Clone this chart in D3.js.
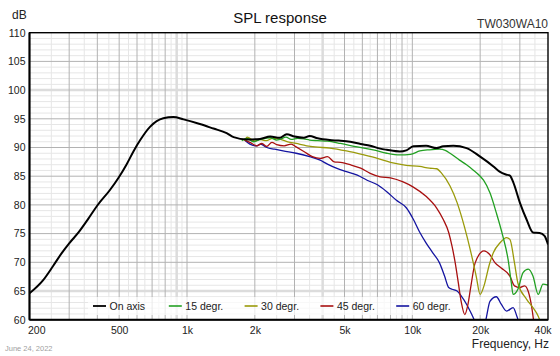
<!DOCTYPE html>
<html><head><meta charset="utf-8">
<script src="https://cdn.jsdelivr.net/npm/d3@7"></script>
<style>
body{margin:0;background:#fff;}
svg{display:block;font-family:"Liberation Sans",Arial,sans-serif;}
</style></head>
<body><svg id="c" width="560" height="356"></svg>
<script>
// ---- data ----
const yTicks = [60,65,70,75,80,85,90,95,100,105,110];
const xTickValues = [200,500,1000,2000,5000,10000,20000,40000];
const xTickLabels = ["200","500","1k","2k","5k","10k","20k","40k"];
const seriesNames = ["On axis","15 degr.","30 degr.","45 degr.","60 degr."];
const seriesColors = ["#000000","#22a022","#9a9a0a","#a81010","#1414a0"];

const onAxisFreq = [200,230,255,278,300,330,365,400,455,496,540,580,620,685,785,870,965,1140,1310,1500,1610,1840,2110,2340,2580,2770,3000,3300,3500,3800,4300,4700,5300,5900,6500,7200,7700,8800,9400,10100,11500,12800,13700,15200,17400,20000,22900,24400,26000,27100,28000,30000,32100,34300,36700,38600,40000];
const onAxisDb   = [64.6,66.9,69.4,71.6,73.3,75.2,77.6,79.9,82.6,84.7,87.1,89.4,91.3,93.6,95.1,95.3,94.9,94.1,93.3,92.5,91.8,91.4,91.5,91.9,91.7,92.3,91.9,91.7,92.0,91.6,91.3,91.2,91.0,90.6,90.3,89.8,89.6,89.3,89.5,90.2,90.3,89.9,90.2,90.3,89.9,88.4,86.7,85.8,85.3,85.1,84.0,80.4,77.5,75.2,75.1,74.6,73.1];

const deg15Freq = [1750,1850,1970,2080,2170,2340,2500,2580,2750,2900,3100,3300,3500,3800,4200,4800,5700,6700,7700,8800,9800,10800,11900,13200,14000,14700,16200,17400,18600,20000,20700,22100,23600,25200,26600,27500,28000,29400,31000,32700,34300,36200,38000,40000];
const deg15Db   = [91.2,91.6,91.0,91.3,91.5,91.7,91.3,91.4,91.8,91.4,91.6,91.5,91.3,91.2,91.1,90.7,90.1,89.6,89.0,88.7,88.8,89.4,89.6,89.7,89.5,89.0,87.8,87.0,86.1,85.0,84.3,82.1,78.6,74.6,70.5,66.4,64.4,65.3,68.2,68.8,67.6,64.4,66.2,66.0];

const deg30Freq = [1800,1850,1900,2000,2100,2250,2400,2600,2800,3050,3400,3700,4300,5100,6100,7000,8000,9400,10800,11900,12800,13500,14700,15800,17000,18200,19200,20000,20800,22000,22900,24500,26200,27100,28400,29400,32100,34300,36200,37500];
const deg30Db   = [91.2,91.8,91.6,91.1,91.4,91.2,91.6,91.4,91.0,90.7,90.3,90.1,89.9,89.4,88.7,88.1,87.4,86.9,86.7,86.4,86.3,85.5,83.3,80.4,76.3,71.7,67.6,64.4,65.9,69.7,71.7,73.4,74.3,74.0,69.9,66.4,63.6,62.1,60.6,59.0];

const deg45Freq = [1800,1900,2040,2150,2260,2380,2500,2700,2900,3050,3300,3600,3900,4200,4500,4800,5300,5900,6500,7200,8000,9100,10100,11500,12800,13700,14500,15000,15500,16000,16500,17100,17600,18200,19000,20800,22000,23300,24800,27100,28400,30000,31500,32700,33800,35000];
const deg45Db   = [91.3,90.9,90.3,90.7,90.2,90.9,90.5,90.3,90.6,90.1,89.3,88.4,88.1,88.4,87.5,87.4,87.0,86.4,85.5,84.9,84.7,84.0,83.1,81.5,79.5,77.5,75.2,72.8,69.9,66.4,63.0,60.9,62.4,65.9,69.9,72.0,71.4,69.9,69.0,67.6,65.9,65.6,65.9,64.9,62.4,58.0];

const deg60Freq = [1800,1900,2040,2120,2260,2450,2670,3050,3500,3900,4200,4600,5100,5700,6300,7000,7700,8500,9400,10100,10800,11500,12300,13200,13900,14500,15000,15800,16500,17400,18200,18800,19800,21200,22100,23600,24800,26200,28000,29100,30500];
const deg60Db   = [91.3,90.6,90.3,90.6,90.0,89.7,89.4,89.0,88.4,87.8,87.1,86.4,85.8,85.2,84.3,83.5,82.3,80.8,79.5,77.5,75.2,73.4,71.7,69.9,67.6,65.6,65.3,65.0,64.1,62.7,61.2,60.0,57.5,60.0,63.2,64.0,62.7,61.5,62.1,60.6,58.0];

const seriesFreq = [onAxisFreq,deg15Freq,deg30Freq,deg45Freq,deg60Freq];
const seriesDb = [onAxisDb,deg15Db,deg30Db,deg45Db,deg60Db];

// ---- layout ----
const L=29.5, R=548, T=32.7, B=319.7;
const svg = d3.select("#c");
const x = d3.scaleLog().domain([200,40000]).range([L,R]);
const y = d3.scaleLinear().domain([60,110]).range([B,T]);

// grid
const g = svg.append("g");
const minorX=[], majorX=[], specialX=[900,4000];
for (const dec of [100,1000,10000]) {
  for (let m=2; m<10; m+=0.5) {
    const f = m*dec;
    if (f<=200 || f>=40000) continue;
    if (specialX.includes(f)) continue;
    if (Number.isInteger(m)) majorX.push(f); else minorX.push(f);
  }
}
majorX.push(1000,10000);
const minorY=[], majorY=[], specialY=[65,100];
for (let v=61; v<110; v++) {
  if (specialY.includes(v)) continue;
  if (v%5===0) majorY.push(v); else minorY.push(v);
}
g.selectAll(".mnx").data(minorX).join("line").attr("x1",d=>x(d)).attr("x2",d=>x(d)).attr("y1",T).attr("y2",B).attr("stroke","#e6e6e6").attr("stroke-width",1);
g.selectAll(".mny").data(minorY).join("line").attr("x1",L).attr("x2",R).attr("y1",d=>y(d)).attr("y2",d=>y(d)).attr("stroke","#e6e6e6").attr("stroke-width",1);
g.selectAll(".spx").data(specialX).join("line").attr("x1",d=>x(d)).attr("x2",d=>x(d)).attr("y1",T).attr("y2",B).attr("stroke","#dcdcdc").attr("stroke-width",2.5);
g.selectAll(".spy").data(specialY).join("line").attr("x1",L).attr("x2",R).attr("y1",d=>y(d)).attr("y2",d=>y(d)).attr("stroke","#dcdcdc").attr("stroke-width",2.5);
g.selectAll(".mjx").data(majorX).join("line").attr("x1",d=>x(d)).attr("x2",d=>x(d)).attr("y1",T).attr("y2",B).attr("stroke","#b2b2b2").attr("stroke-width",1);
g.selectAll(".mjy").data(majorY).join("line").attr("x1",L).attr("x2",R).attr("y1",d=>y(d)).attr("y2",d=>y(d)).attr("stroke","#b2b2b2").attr("stroke-width",1);

// clip
svg.append("defs").append("clipPath").attr("id","clip").append("rect").attr("x",L).attr("y",T).attr("width",R-L).attr("height",B-T);

// legend background (semi-transparent)
svg.append("rect").attr("x",88).attr("y",297).attr("width",430).attr("height",18).attr("fill","#fff").attr("opacity",0.72);

// lines
const line = d3.line().x(d=>x(d[0])).y(d=>y(d[1])).curve(d3.curveMonotoneX);
const lg = svg.append("g").attr("clip-path","url(#clip)");
for (let i=seriesNames.length-1;i>=0;i--) {
  const pts = seriesFreq[i].map((f,j)=>[f,seriesDb[i][j]]);
  lg.append("path").attr("d",line(pts)).attr("fill","none").attr("stroke",seriesColors[i]).attr("stroke-width",i===0?2:1.3).attr("stroke-linejoin","round");
}

// frame
svg.append("rect").attr("x",L).attr("y",T).attr("width",R-L).attr("height",B-T).attr("fill","none").attr("stroke","#000").attr("stroke-width",1.4);
svg.append("line").attr("x1",L).attr("x2",L).attr("y1",T).attr("y2",B).attr("stroke","#000").attr("stroke-width",2);
svg.append("line").attr("x1",L).attr("x2",R).attr("y1",B).attr("y2",B).attr("stroke","#000").attr("stroke-width",2);

// axes labels
const yAxis = d3.axisLeft(y).tickValues(yTicks).tickSize(0).tickPadding(4);
svg.append("g").attr("transform",`translate(${L},0)`).call(yAxis)
  .call(s=>s.select(".domain").remove())
  .selectAll("text").attr("font-size",10.5).attr("fill","#222").attr("font-family","Liberation Sans, Arial, sans-serif");

const xAxis = d3.axisBottom(x).tickValues(xTickValues).tickFormat((d,i)=>xTickLabels[i]).tickSize(0).tickPadding(7);
const xa = svg.append("g").attr("transform",`translate(0,${B})`).call(xAxis);
xa.select(".domain").remove();
xa.selectAll("text").attr("font-size",10.5).attr("fill","#222").attr("font-family","Liberation Sans, Arial, sans-serif")
  .attr("text-anchor",(d,i)=> i===0?"start":(i===xTickValues.length-1?"end":"middle"))
  .attr("dx",(d,i)=> i===0?-2:(i===xTickValues.length-1?3:0));

// legend
const leg = svg.append("g");
seriesNames.forEach((n,i)=>{
  const lx = 93 + i*75.8;
  leg.append("line").attr("x1",lx).attr("x2",lx+13).attr("y1",306).attr("y2",306).attr("stroke",seriesColors[i]).attr("stroke-width",i===0?1.8:1.6);
  leg.append("text").attr("x",lx+16.5).attr("y",306).attr("dy","0.35em").attr("font-size",10.5).attr("fill","#222").text(n);
});

// titles
svg.append("text").attr("x",280).attr("y",23).attr("text-anchor","middle").attr("font-size",15).attr("fill","#111").text("SPL response");
svg.append("text").attr("x",12).attr("y",19).attr("font-size",12).attr("fill","#222").text("dB");
svg.append("text").attr("x",548).attr("y",28).attr("text-anchor","end").attr("font-size",12).attr("fill","#333").text("TW030WA10");
svg.append("text").attr("x",549).attr("y",348).attr("text-anchor","end").attr("font-size",12).attr("fill","#222").text("Frequency, Hz");
svg.append("text").attr("x",5).attr("y",351).attr("font-size",7.5).attr("fill","#a0a0a0").text("June 24, 2022");
</script></body></html>
